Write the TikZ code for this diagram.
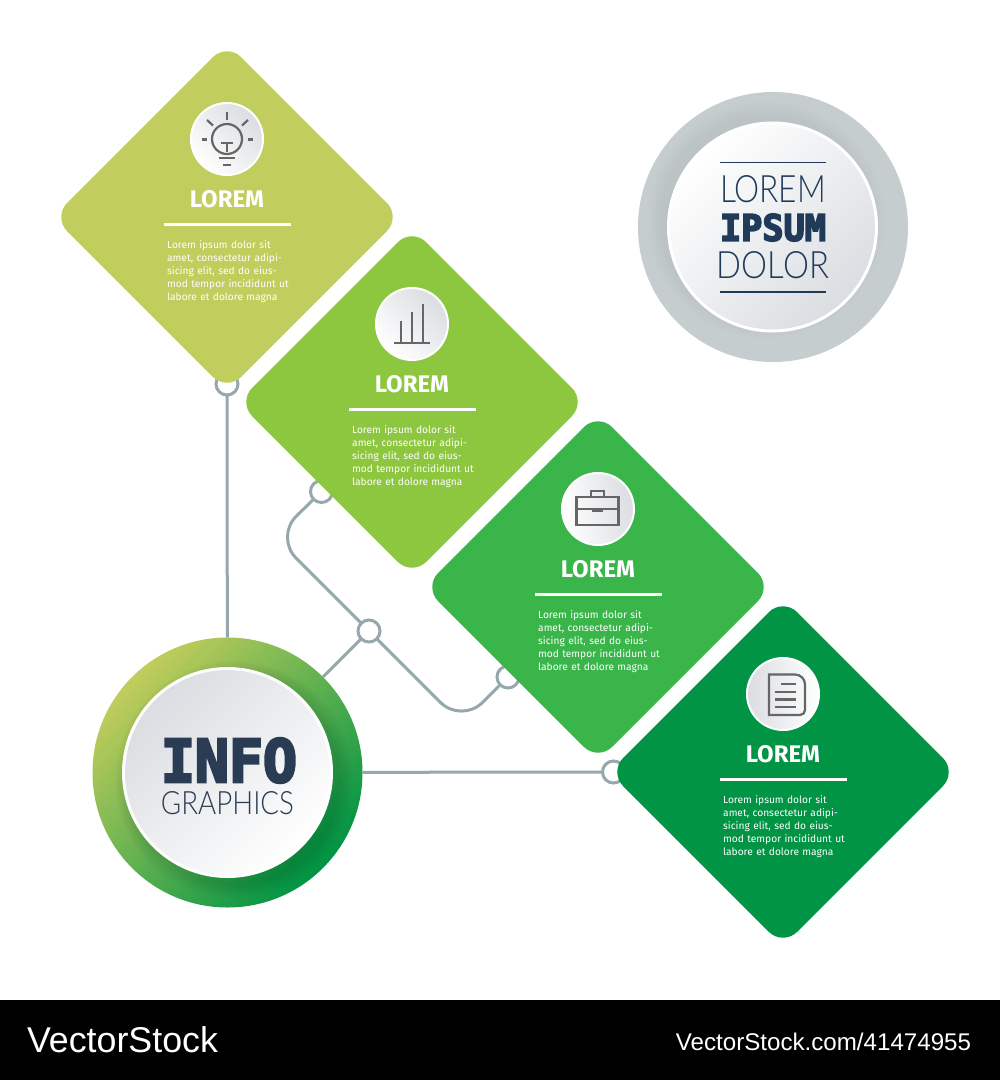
\documentclass[tikz,border=0pt]{standalone}
\usepackage{fontspec}
\usepackage{graphicx}
\usetikzlibrary{shapes.geometric}
\setmainfont{Fira Sans}
\newfontfamily\heavyfont[FakeBold=4.5]{DejaVu Sans Mono Bold}
\newfontfamily\thinfont{Lato Light}
\newfontfamily\markfont{Liberation Sans}
\definecolor{cardA}{HTML}{C1CD5C}
\definecolor{cardB}{HTML}{8DC63F}
\definecolor{cardC}{HTML}{39B54A}
\definecolor{cardD}{HTML}{009444}
\definecolor{ringgray}{HTML}{C5CDCE}
\definecolor{linegray}{HTML}{97A8AC}
\definecolor{discgray}{HTML}{DADDE1}
\definecolor{navy}{HTML}{203A5A}
\definecolor{infonavy}{HTML}{2A3C54}
\definecolor{iconink}{HTML}{666666}
\tikzset{
  card/.style={diamond,aspect=1,minimum width=348pt,minimum height=348pt,inner sep=0pt,outer sep=0pt,rounded corners=20pt},
  junction/.style={circle,draw=linegray,line width=3pt,fill=white,minimum size=22pt,inner sep=0pt,outer sep=0pt},
  link/.style={draw=linegray,line width=3pt},
  icondisc/.style={circle,draw=white,line width=2pt,minimum size=72pt,inner sep=0pt,outer sep=0pt,left color=white,right color=discgray,shading angle=#1},
  cardtitle/.style={text=white,font=\bfseries\fontsize{24}{24}\selectfont,inner sep=0pt},
  cardbody/.style={text=white,font=\fontsize{10.2}{13}\selectfont,align=left,anchor=north west,inner sep=0pt,text width=125pt},
  rule/.style={draw=white,line width=3pt},
  iconline/.style={draw=iconink,line width=2.2pt},
  bigtext/.style={text=navy,inner sep=0pt,outer sep=0pt},
}
\newcommand{\infocard}[5]{%
  \node[card,fill=#4] (#1) at (#2,#3) {};
  \node[icondisc=#5] (#1icon) at (#2,#3-78) {};
  \node[cardtitle] (#1title) at (#2,#3-17.5) {LOREM};
  \coordinate (#1ruleL) at (#2-63,#3+7);
  \coordinate (#1ruleR) at (#2+64,#3+7);
  \draw[rule] (#1ruleL) -- (#1ruleR);
  \node[cardbody] (#1body) at (#2-60,#3+23.5) {Lorem ipsum dolor sit\\amet, consectetur adipi-\\sicing elit, sed do eius-\\mod tempor incididunt ut\\labore et dolore magna};
}
\begin{document}
\begin{tikzpicture}[x=1pt,y=-1pt]
\useasboundingbox (0,0) rectangle (1000,1080);
\fill[white] (0,0) rectangle (1000,1080);

% junctions
\node[junction] (j1) at (227,384) {};
\node[junction] (j2) at (321.5,491.5) {};
\node[junction] (jn) at (369,631) {};
\node[junction] (j3) at (508,677) {};
\node[junction] (j4) at (613.5,772) {};
\coordinate (bendA) at (275,537);
\coordinate (bendB) at (461.5,723.5);

% main circle
\node[circle,minimum size=270pt,inner sep=0pt,outer sep=0pt,left color=cardA,right color=cardD,shading angle=45] (main) at (227.5,772.5) {};
\begin{scope}
\clip (227.5,772.5) circle (135pt);
\foreach \r in {1.5,3,...,15}{\fill[black,opacity=0.01] (234,780) circle ({104+\r});}
\end{scope}
\node[circle,draw=white,line width=3pt,minimum size=208pt,inner sep=0pt,outer sep=0pt,left color=discgray,right color=white,shading angle=45] (maindisc) at (227.5,772.5) {};
\node[bigtext,text=infonavy] (info) at (229,760.5) {\resizebox{136pt}{44pt}{\heavyfont INFO}};
\node[bigtext,text=infonavy] (graphics) at (227.5,803.5) {\resizebox{133pt}{23pt}{\thinfont GRAPHICS}};

% connectors
\draw[link] (j1) -- (main);
\draw[link] (jn) -- (main);
\draw[link] (main) -- (j4);
\draw[link,rounded corners=30pt] (jn) -- (bendA) -- (j2);
\draw[link,rounded corners=30pt] (jn) -- (bendB) -- (j3);

% cards
\infocard{cardone}{227}{217}{cardA}{135}
\infocard{cardtwo}{412}{402}{cardB}{135}
\infocard{cardthree}{598}{587}{cardC}{100}
\infocard{cardfour}{783}{772}{cardD}{-90}

% bulb
\draw[iconline] (227,139) circle (15pt);
\draw[iconline] (221,143) -- (233,143) (227,143) -- (227,152);
\draw[iconline] (219,158) -- (235,158) (223,165) -- (231,165);
\draw[iconline] (227,112) -- (227,120) (202,139.5) -- (207,139.5) (248,139.5) -- (253,139.5);
\draw[iconline] (207,120) -- (213,125.5) (248,120) -- (242,125.5);
% chart
\draw[iconline] (394,343) -- (430,343);
\draw[iconline] (401,343) -- (401,321) (412,343) -- (412,312) (423,343) -- (423,304);
% briefcase
\draw[iconline] (576.5,497) rectangle (618.5,525);
\draw[iconline] (576.5,509) -- (618.5,509);
\draw[iconline] (591,497) -- (591,491) -- (604,491) -- (604,497);
\draw[iconline,line width=3.5pt] (592,510) -- (603,510);
% document
\draw[iconline] (769,715) -- (769,674.5) [rounded corners=10pt] -- (805,674.5) [rounded corners=5pt] -- (805,715) [sharp corners] -- (769,715) -- cycle;
\draw[iconline] (781,684) -- (796,684) (775,692) -- (796,692) (775,699.5) -- (796,699.5) (775,707) -- (796,707);

% top right circle
\node[circle,minimum size=270pt,inner sep=0pt,outer sep=0pt,fill=ringgray] (side) at (773,227) {};
\begin{scope}
\clip (773,227) circle (135pt);
\foreach \r in {1.5,3,...,15}{\fill[black,opacity=0.005] (766,220) circle ({104+\r});}
\end{scope}
\node[circle,draw=white,line width=3pt,minimum size=208pt,inner sep=0pt,outer sep=0pt,left color=white,right color=discgray,shading angle=45] (sidedisc) at (772.5,227) {};
\coordinate (topL) at (720,162.5);
\coordinate (topR) at (826,162.5);
\coordinate (botL) at (720,292);
\coordinate (botR) at (826,292);
\draw[navy,line width=1.2pt] (topL) -- (topR);
\draw[navy,line width=1.2pt] (botL) -- (botR);
\node[bigtext] (s1) at (773,189.5) {\resizebox{106pt}{27pt}{\thinfont LOREM}};
\node[bigtext] (s2) at (773,227.5) {\resizebox{106pt}{27pt}{\heavyfont IPSUM}};
\node[bigtext] (s3) at (773,265.5) {\resizebox{112pt}{27pt}{\thinfont DOLOR}};

% footer
\fill[black] (0,1000) rectangle (1000,1080);
\node[text=white,inner sep=0pt] (brand) at (122.5,1039.5) {\resizebox{191pt}{!}{\markfont VectorStock}};
\node[text=white,inner sep=0pt] (url) at (823.5,1042) {\resizebox{295pt}{!}{\markfont VectorStock.com/41474955}};
\end{tikzpicture}
\end{document}
